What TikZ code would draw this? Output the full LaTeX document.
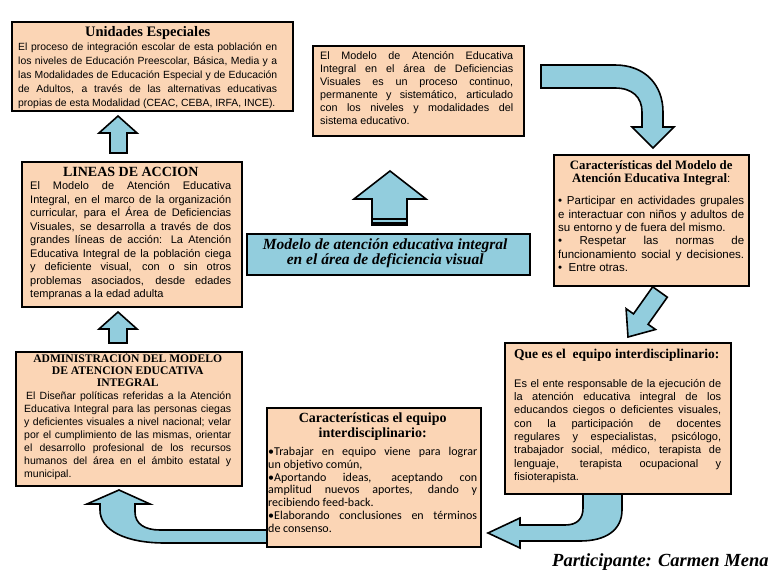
\documentclass[tikz,border=0pt]{standalone}
\usepackage{fontspec}
\setmainfont{Liberation Sans}
\newfontfamily\tfont{Liberation Serif}
\newfontfamily\cfont{Carlito}
\definecolor{peach}{RGB}{251,213,181}
\definecolor{ablue}{RGB}{146,205,221}
\newcommand\tb[4]{\vtop{\hsize=#1\fontsize{#2}{#3}\selectfont\hbox{}#4}}
\newcommand\jln[1]{\hbox to\hsize{#1}}
\newcommand\lln[1]{\hbox to\hsize{#1\hfil}}
\newcommand\cln[1]{\hbox to\hsize{\hfil#1\hfil}}
\newcommand\ttlfont[1]{\tfont\bfseries\fontsize{#1}{#1}\selectfont}
\begin{document}
\begin{tikzpicture}[x=1pt,y=-1pt,
  box/.style={draw=black,line width=2.4pt,fill=peach,inner sep=0pt,anchor=north west},
  bluebox/.style={draw=black,line width=2.4pt,fill=ablue,inner sep=0pt,anchor=north west},
  txt/.style={inner sep=0pt,anchor=north west},
  barrow/.style={fill=ablue,draw=black,line width=1.6pt,line join=miter}]
\fill[white] (0,0) rectangle (768,576);
\useasboundingbox (0,0) rectangle (768,576);

% ---------- block arrows ----------
% up arrow Unidades <- Lineas
\draw[barrow] (110,153) -- (110,133) -- (99,133) -- (118,116) -- (137,133) -- (127,133) -- (127,153) -- cycle;
% up arrow Lineas <- Administracion
\draw[barrow] (109,343) -- (109,329) -- (99,329) -- (118,312) -- (137,329) -- (127,329) -- (127,343) -- cycle;
% middle up arrow
\draw[barrow] (372,225) -- (372,199) -- (354,199) -- (390,171) -- (426,199) -- (407,199) -- (407,225) -- cycle;
\fill[black] (372,217.5) rectangle (407,220);
\fill[black] (372,222) rectangle (407,225.5);
% top right curved arrow
\draw[barrow] (541,65) -- (615,65) .. controls (645,65) and (663,85) .. (663,112) -- (663,127) -- (674,127) -- (653,148) -- (632,127) -- (642,127) -- (642,112) .. controls (642,97) and (632,88) .. (615,88) -- (541,88) -- cycle;
% diagonal arrow
\draw[barrow] (652.7,286.8) -- (667.3,297.2) -- (648.1,324.3) -- (655.5,329.5) -- (628,337) -- (626.1,308.7) -- (633.5,313.9) -- cycle;
% bottom right curved arrow
\draw[barrow] (583,488) -- (583,508) .. controls (583,519) and (577,525) .. (565,525) -- (520,525) -- (520,518) -- (488,533) -- (520,548) -- (520,541) -- (580,541) .. controls (606,541) and (622,530) .. (622,510) -- (622,488) -- cycle;
% bottom left curved arrow
\draw[barrow] (272,543) -- (165,543) .. controls (125,543) and (100,530) .. (100,510) -- (100,504) -- (87,504) -- (119,490) -- (150,504) -- (135,504) -- (135,512) .. controls (135,524) and (145,530) .. (160,530) -- (272,530) -- cycle;

% ---------- boxes ----------
\node[box,minimum width=281pt,minimum height=89pt] (b1) at (11,21) {};
\node[box,minimum width=211pt,minimum height=90pt] (b2) at (312,45) {};
\node[box,minimum width=195pt,minimum height=131pt] (b3) at (553,154) {};
\node[box,minimum width=220pt,minimum height=145pt] (b4) at (21,161) {};
\node[bluebox,minimum width=283pt,minimum height=41pt] (b5) at (246,233) {};
\node[box,minimum width=226pt,minimum height=151pt] (b6) at (504,342) {};
\node[box,minimum width=226pt,minimum height=134pt] (b7) at (15,351) {};
\node[box,minimum width=214pt,minimum height=139pt] (b8) at (266,407) {};

% ---------- texts ----------
\node[txt] (t1) at (18,22) {\tb{259pt}{10.4}{14}{%
\cln{\ttlfont{14.5}Unidades Especiales}%
\jln{El proceso de integración escolar de esta población en}%
\jln{los niveles de Educación Preescolar, Básica, Media y a}%
\jln{las Modalidades de Educación Especial y de Educación}%
\jln{de Adultos, a través de las alternativas educativas}%
\lln{propias de esta Modalidad (CEAC, CEBA, IRFA, INCE).}}};

\node[txt] (t2) at (320,46) {\tb{193pt}{10.8}{13}{%
\jln{El Modelo de Atención Educativa}%
\jln{Integral en el área de Deficiencias}%
\jln{Visuales es un proceso continuo,}%
\jln{permanente y sistemático, articulado}%
\jln{con los niveles y modalidades del}%
\lln{sistema educativo.}}};

\node[txt] (t3) at (558,155.6) {\tb{186pt}{11.5}{13.4}{%
\cln{\ttlfont{12.8}Características del Modelo de}%
\cln{{\ttlfont{12.8}Atención Educativa Integral}:}%
\vskip 8.6pt
\jln{• Participar en actividades grupales}%
\jln{e interactuar con niños y adultos de}%
\lln{su entorno y de fuera del mismo.}%
\jln{• Respetar las normas de}%
\jln{funcionamiento social y decisiones.}%
\lln{•\ \ Entre otras.}}};

\node[txt] (t4) at (30,162.5) {\tb{201pt}{11}{13.5}{%
\cln{\ttlfont{14}LINEAS DE ACCION}%
\jln{El Modelo de Atención Educativa}%
\jln{Integral, en el marco de la organización}%
\jln{curricular, para el Área de Deficiencias}%
\jln{Visuales, se desarrolla a través de dos}%
\jln{grandes líneas de acción: La Atención}%
\jln{Educativa Integral de la población ciega}%
\jln{y deficiente visual, con o sin otros}%
\jln{problemas asociados, desde edades}%
\lln{tempranas a la edad adulta}}};

\node[txt] (t5) at (247,234) {\tb{276pt}{15.5}{15}{%
\cln{\tfont\bfseries\itshape Modelo de atención educativa integral}%
\cln{\tfont\bfseries\itshape en el área de deficiencia visual}}};

\node[txt] (t6) at (514,344.7) {\tb{207pt}{11}{13.3}{%
\lln{\ttlfont{13.5}Que es el~ equipo interdisciplinario:}%
\vskip 15.7pt
\jln{Es el ente responsable de la ejecución de}%
\jln{la atención educativa integral de los}%
\jln{educandos ciegos o deficientes visuales,}%
\jln{con la participación de docentes}%
\jln{regulares y especialistas, psicólogo,}%
\jln{trabajador social, médico, terapista de}%
\jln{lenguaje, terapista ocupacional y}%
\lln{fisioterapista.}}};

\node[txt] (t7) at (24,350) {\tb{207pt}{11}{12}{%
\cln{\ttlfont{11.6}ADMINISTRACIÓN DEL MODELO}%
\cln{\ttlfont{11.6}DE ATENCION EDUCATIVA}%
\cln{\ttlfont{11.6}INTEGRAL}%
\fontsize{10.5}{13}\selectfont
\jln{\hskip 2pt El Diseñar políticas referidas a la Atención}%
\jln{Educativa Integral para las personas ciegas}%
\jln{y deficientes visuales a nivel nacional; velar}%
\jln{por el cumplimiento de las mismas, orientar}%
\jln{el desarrollo profesional de los recursos}%
\jln{humanos del área en el ámbito estatal y}%
\lln{municipal.}}};

\node[txt] (t8) at (268,407.5) {\tb{209pt}{13}{15}{%
\cln{\ttlfont{14}Características el equipo}%
\cln{\ttlfont{14}interdisciplinario:}%
\cfont\fontsize{12}{12.9}\selectfont
\vskip 4.6pt
\jln{•Trabajar en equipo viene para lograr}%
\lln{un objetivo común,}%
\jln{•Aportando ideas, aceptando con}%
\jln{amplitud nuevos aportes, dando y}%
\lln{recibiendo feed-back.}%
\jln{•Elaborando conclusiones en términos}%
\lln{de consenso.}}};

\node[inner sep=0pt,anchor=base west,font=\tfont\bfseries\itshape\fontsize{18.5}{20}\selectfont] (tp) at (552,566) {Participante: Carmen Mena};
\end{tikzpicture}
\end{document}
